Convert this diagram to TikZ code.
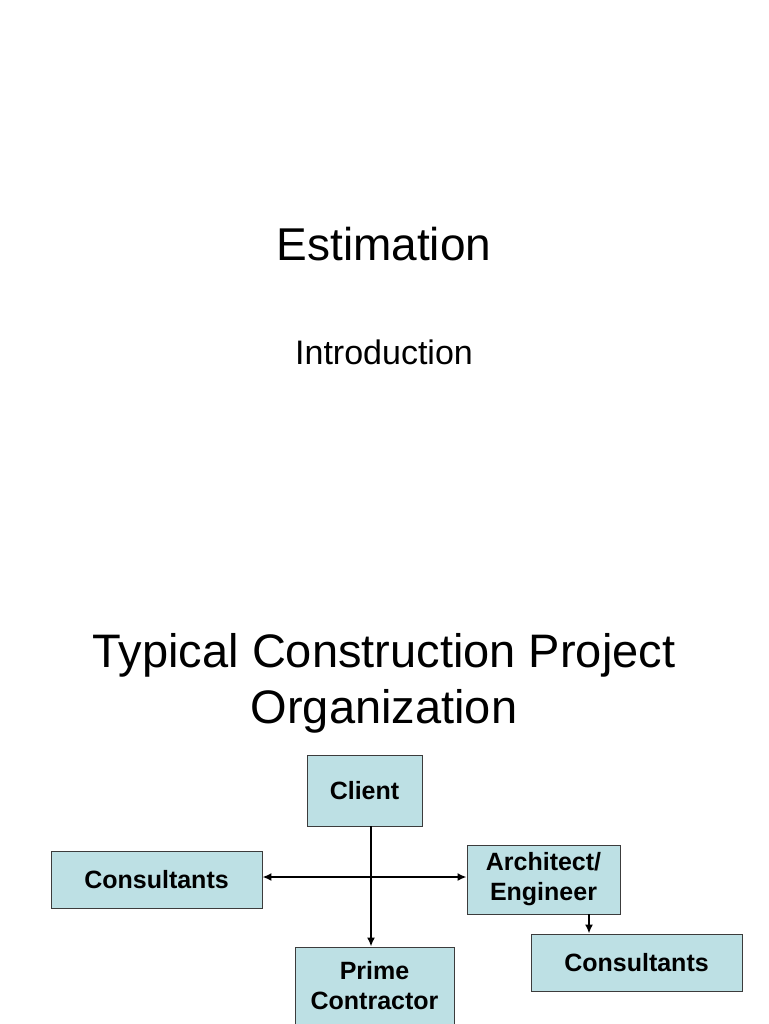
\documentclass[tikz,border=0pt]{standalone}
\usepackage{fontspec}
\setmainfont{Liberation Sans}
\usetikzlibrary{arrows.meta}
\definecolor{boxfill}{RGB}{189,224,228}
\definecolor{boxline}{RGB}{60,60,60}
\begin{document}
\begin{tikzpicture}[x=1pt,y=-1pt,
  orgbox/.style={draw=boxline,line width=0.9pt,fill=boxfill,inner sep=0pt,align=center,
    font=\fontsize{25}{30}\selectfont\bfseries},
  conn/.style={line width=2pt,-{Latex[length=9pt,width=8pt]}},
  conn2/.style={line width=2pt,{Latex[length=9pt,width=8pt]}-{Latex[length=9pt,width=8pt]}},
  heading/.style={anchor=base,inner sep=0pt}]
\useasboundingbox[fill=white] (0,0) rectangle (768,1024);
\node[heading,font=\fontsize{46}{52}\selectfont] (est) at (384,260) {Estimation};
\node[heading,font=\fontsize{34}{40}\selectfont] (intro) at (384,364) {Introduction};
\node[heading,font=\fontsize{47}{56}\selectfont] (t1) at (384,667) {Typical Construction Project};
\node[heading,font=\fontsize{47}{56}\selectfont] (t2) at (384,723) {Organization};

\node[orgbox,minimum width=115pt,minimum height=71pt] (client) at (364.5,790.5) {Client};
\node[orgbox,minimum width=211pt,minimum height=57pt] (consL) at (156.5,879.5) {Consultants};
\node[orgbox,minimum width=153pt,minimum height=69pt] (arch) at (543.5,879.5) {Architect/\\Engineer};
\node[orgbox,minimum width=211pt,minimum height=57pt] (consR) at (636.5,962.5) {Consultants};
\node[orgbox,minimum width=159pt,minimum height=78pt] (prime) at (374.5,986) {Prime\\Contractor};

\coordinate (vx) at (371,877);
\coordinate (ax) at (589,0);
\draw[conn2] (consL.east |- vx) -- (arch.west |- vx);
\draw[conn] (client.south -| vx) -- (prime.north -| vx);
\draw[conn] (arch.south -| ax) -- (consR.north -| ax);
\end{tikzpicture}
\end{document}
